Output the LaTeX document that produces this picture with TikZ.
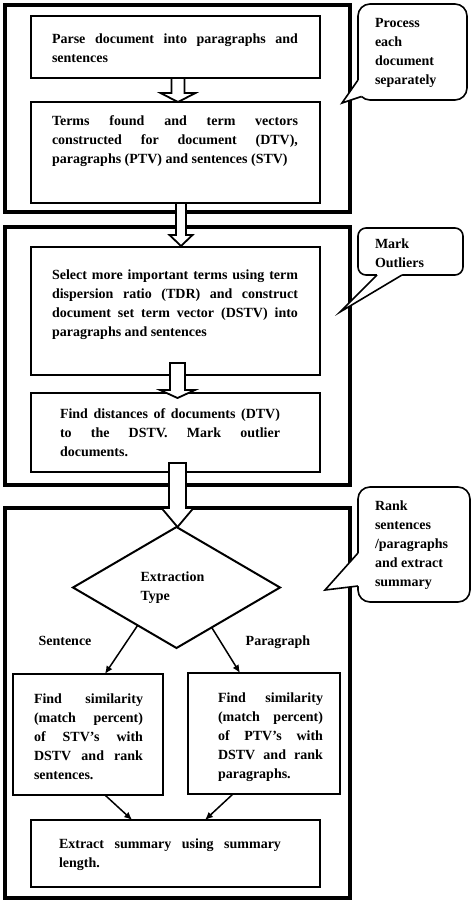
\documentclass[tikz,border=0pt]{standalone}
\usepackage{fontspec}
\setmainfont{Liberation Serif}
\usetikzlibrary{shapes.geometric,calc,arrows.meta}
\newcommand{\bxt}[6]{\parbox[c][#2pt][t]{#1pt}{\vspace*{#3pt}\leftskip=#4pt\rightskip=#5pt\relax #6}}
\newcommand{\blockarr}[5]{\draw[blockarrow] let \p1=#1, \p2=#2 in (\x2-#3pt,\y1) -- (\x2-#3pt,\y2+#5pt) -- (\x2-#4pt,\y2+#5pt) -- (\x2,\y2) -- (\x2+#4pt,\y2+#5pt) -- (\x2+#3pt,\y2+#5pt) -- (\x2+#3pt,\y1) -- cycle;}
\newcommand{\calloutptr}[5]{\fill[white] #1 -- #2 -- #3 -- #4 -- #5 -- cycle;
  \draw[calline] #1 -- #2 -- #3;}
\begin{document}
\begin{tikzpicture}[x=1pt,y=-1pt,
  every node/.style={inner sep=0pt, outer sep=0pt, font=\fontsize{14}{19}\selectfont\bfseries},
  outerbox/.style={draw, line width=3.6pt, anchor=north west},
  stepbox/.style={draw, line width=2.8pt, anchor=north west},
  blockarrow/.style={draw, fill=white, line width=1.8pt, line join=miter},
  thinarrow/.style={line width=1.5pt, -{Latex[length=8pt,width=7pt]}},
  callbox/.style={draw, line width=1.6pt, anchor=north west, fill=white},
  calline/.style={line width=1.6pt, line join=miter},
]
\useasboundingbox[fill=white] (0,0) rectangle (474,905);

% outer frames
\node[outerbox, minimum width=345pt, minimum height=207pt] (O1) at (5,5) {};
\node[outerbox, minimum width=345pt, minimum height=258pt] (O2) at (5,227) {};
\node[outerbox, minimum width=345pt, minimum height=390pt] (O3) at (5,508) {};

% steps
\node[stepbox] (A) at (31,16) {\bxt{289}{62}{17.5}{21}{22}{Parse document into paragraphs and\linebreak sentences}};
\node[stepbox] (B) at (31,102) {\bxt{289}{101}{13.5}{21}{22}{Terms found and term vectors\linebreak constructed for document (DTV),\linebreak paragraphs (PTV) and sentences (STV)}};
\node[stepbox] (C) at (31,247) {\bxt{289}{128}{22.5}{21}{22}{Select more important terms using term\linebreak dispersion ratio (TDR) and construct\linebreak document set term vector (DSTV) into\linebreak paragraphs and sentences}};
\node[stepbox] (D) at (31,393) {\bxt{289}{79}{15.5}{29}{40}{Find distances of documents (DTV)\linebreak to the DSTV. Mark outlier\linebreak documents.}};
\node[draw, diamond, line width=2pt, minimum width=207pt, minimum height=121pt, align=left] (dia) at (176.5,587.5) {Extraction\hspace*{8pt}\\Type};
\node[stepbox] (E) at (13,674) {\bxt{150}{121}{19.5}{21}{20}{Find similarity\linebreak (match percent)\linebreak of STV’s with\linebreak DSTV and rank\linebreak sentences.}};
\node[stepbox] (F) at (188,673) {\bxt{152}{121}{19.5}{30}{17}{Find similarity\linebreak (match percent)\linebreak of PTV’s with\linebreak DSTV and rank\linebreak paragraphs.}};
\node[stepbox] (G) at (31,820) {\bxt{289}{67}{18.5}{28}{39}{Extract summary using summary\linebreak length.}};

% labels
\node[anchor=base] (ls) at (65,645) {Sentence};
\node[anchor=base] (lp) at (278,645) {Paragraph};

% block arrows
\blockarr{($(A.south)+(2.5,0)$)}{($(B.north)+(2.5,0)$)}{6.5}{17.5}{9}
\blockarr{($(B.south)+(5.5,0)$)}{($(C.north)+(5.5,-1)$)}{5}{11.5}{11}
\blockarr{($(C.south)+(2,-12)$)}{($(D.north)+(2,5)$)}{7.5}{17.5}{8}
\blockarr{($(D.south)+(3,-9)$)}{($(dia.north)+(1,0)$)}{8.5}{16}{19}

% thin arrows
\draw[thinarrow] ($(dia.south)!0.375!(dia.west)$) -- ($(E.north west)!0.613!(E.north east)$);
\draw[thinarrow] ($(dia.south)!0.34!(dia.east)$) -- ($(F.north west)!0.342!(F.north east)$);
\draw[thinarrow] ($(E.south west)!0.613!(E.south east)$) -- ($(G.north west)!0.35!(G.north east)$);
\draw[thinarrow] ($(F.south west)!0.296!(F.south east)$) -- ($(G.north west)!0.602!(G.north east)$);

% callouts
\node[callbox, rounded corners=12pt] (C1) at (358,4) {\parbox[c][96pt][t]{109pt}{\vspace*{14.5pt}\leftskip=17pt Process\\each\\document\\separately}};
\coordinate (t1) at (342,103);
\calloutptr{($(C1.south west)+(0,-20)$)}{(t1)}{($(C1.south west)+(3.5,-3.5)$)}{($(C1.south west)+(8,-6)$)}{($(C1.south west)+(3,-20)$)}

\node[callbox, rounded corners=8pt] (C2) at (358,228) {\parbox[c][47pt][t]{105pt}{\vspace*{10.5pt}\leftskip=17pt Mark\\Outliers}};
\coordinate (t2) at (340,312);
\calloutptr{($(C2.south west)+(19,0)$)}{(t2)}{($(C2.south west)+(44,0)$)}{($(C2.south west)+(44,-3)$)}{($(C2.south west)+(19,-3)$)}

\node[callbox, rounded corners=12pt] (C3) at (358,487) {\parbox[c][115pt][t]{112pt}{\vspace*{13.5pt}\leftskip=17pt Rank\\sentences\\/paragraphs\\and extract\\summary}};
\coordinate (t3) at (325,590);
\calloutptr{($(C3.south west)+(0,-49)$)}{(t3)}{($(C3.south west)+(0,-16)$)}{($(C3.south west)+(3,-16)$)}{($(C3.south west)+(3,-49)$)}
\end{tikzpicture}
\end{document}
